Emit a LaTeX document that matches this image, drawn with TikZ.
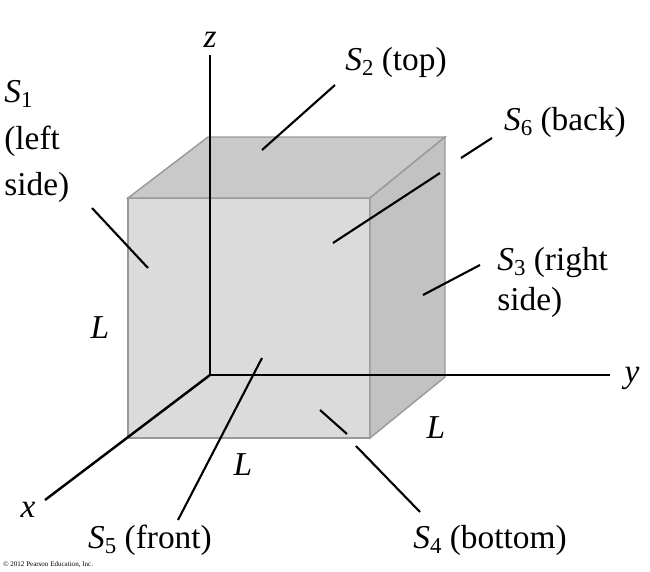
\documentclass[tikz,border=0pt]{standalone}
\usepackage{fontspec}
\setmainfont{Liberation Serif}
\newcommand{\Ssub}[1]{\textit{S}\raisebox{-0.35ex}{\fontsize{13}{13}\selectfont #1}}
\begin{document}
\begin{tikzpicture}[x=0.02cm,y=-0.02cm,
  lab/.style={font=\fontsize{19}{22}\selectfont,inner sep=0pt},
  ilab/.style={font=\fontsize{19}{22}\selectfont\itshape,inner sep=0pt},
  lead/.style={black,line width=1.2pt},
  axis/.style={black,line width=1.4pt},
  edge/.style={draw=gray!80,line width=0.8pt}]
\useasboundingbox (0,0) rectangle (650,572);
% cube corners
\coordinate (ftl) at (128,198); \coordinate (ftr) at (370,198);
\coordinate (fbl) at (128,438); \coordinate (fbr) at (370,438);
\coordinate (btl) at (208,137); \coordinate (btr) at (445,137);
\coordinate (bbr) at (445,377);
\filldraw[edge,fill=gray!28] (ftl) -- (ftr) -- (fbr) -- (fbl) -- cycle;
\filldraw[edge,fill=gray!42] (ftl) -- (btl) -- (btr) -- (ftr) -- cycle;
\filldraw[edge,fill=gray!48] (ftr) -- (btr) -- (bbr) -- (fbr) -- cycle;
% axes
\coordinate (o) at (210,375);
\coordinate (zt) at (210,55); \coordinate (yt) at (610,375); \coordinate (xt) at (45,500);
\draw[axis] (o) -- (zt); \draw[axis] (o) -- (yt); \draw[axis] (o) -- (xt);
\node[ilab] (zl) at (210,40) {z};
\node[ilab] (yl) at (632,378) {y};
\node[ilab] (xl) at (28,510) {x};
\node[ilab] (L1) at (100,328) {L};
\node[ilab] (L2) at (243,465) {L};
\node[ilab] (L3) at (436,428) {L};
% labels
\node[lab,anchor=north west,align=left] (s1) at (4,80) {\Ssub{1}\\[4.6pt](left\\[4.6pt]side)};
\node[lab] (s2) at (396,62) {\Ssub{2} (top)};
\node[lab] (s6) at (565,122) {\Ssub{6} (back)};
\node[lab,align=left,anchor=north west] (s3) at (497,247) {\Ssub{3} (right\\[1pt]side)};
\node[lab] (s5) at (150,540) {\Ssub{5} (front)};
\node[lab] (s4) at (490,540) {\Ssub{4} (bottom)};
\node[inner sep=0pt,font=\fontsize{4}{5}\selectfont,anchor=west] (cp) at (3,565) {\copyright\ 2012 Pearson Education, Inc.};
% leaders
\coordinate (a1) at (92,208); \coordinate (a2) at (148,268);
\draw[lead] (a1) -- (a2);
\coordinate (b1) at (335,85); \coordinate (b2) at (262,150);
\draw[lead] (b1) -- (b2);
\coordinate (c1) at (492,138); \coordinate (c2) at (461,158);
\coordinate (c3) at (440,173); \coordinate (c4) at (333,243);
\draw[lead] (c1) -- (c2); \draw[lead] (c3) -- (c4);
\coordinate (d1) at (480,265); \coordinate (d2) at (423,295);
\draw[lead] (d1) -- (d2);
\coordinate (e1) at (178,520); \coordinate (e2) at (262,358);
\draw[lead] (e1) -- (e2);
\coordinate (f1) at (420,512); \coordinate (f2) at (356,446);
\coordinate (f3) at (347,434); \coordinate (f4) at (320,410);
\draw[lead] (f1) -- (f2); \draw[lead] (f3) -- (f4);
\end{tikzpicture}
\end{document}
